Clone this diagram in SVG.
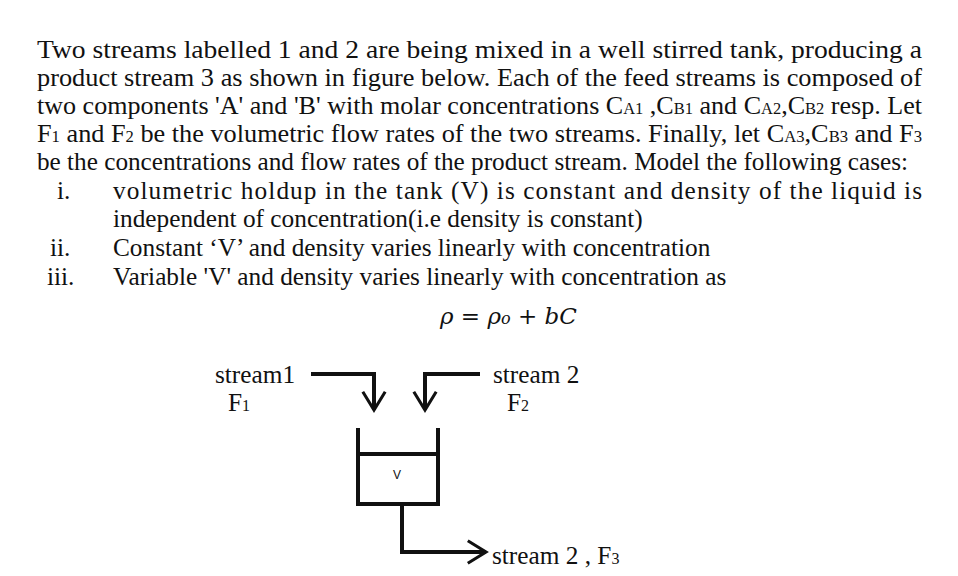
<svg xmlns="http://www.w3.org/2000/svg" width="958" height="576" viewBox="0 0 958 576">
<style>
text{font-family:"Liberation Serif","Times New Roman",serif;font-size:25.3px;fill:#111}
.s{font-size:16px}
.ln{fill:none;stroke:#111;stroke-width:4}
.eq{font-style:italic;font-family:"DejaVu Serif","Liberation Serif",serif;font-size:23px}
</style>
<defs>
<marker id="ah" viewBox="0 0 10 10" refX="8.5" refY="5" markerWidth="7" markerHeight="7" orient="auto" markerUnits="strokeWidth">
<path d="M2,1 L8.5,5 L2,9" fill="none" stroke="#111" stroke-width="1.1"/>
</marker>
</defs>
<rect width="958" height="576" fill="#fff"/>
<g id="text">
<text x="37" y="58" textLength="885" lengthAdjust="spacingAndGlyphs">Two streams labelled 1 and 2 are being mixed in a well stirred tank, producing a</text>
<text x="37" y="86" textLength="885" lengthAdjust="spacingAndGlyphs">product stream 3 as shown in figure below. Each of the feed streams is composed of</text>
<text x="37" y="114" textLength="885" lengthAdjust="spacingAndGlyphs">two components 'A' and 'B' with molar concentrations C<tspan class="s">A1</tspan> ,C<tspan class="s">B1</tspan> and C<tspan class="s">A2</tspan>,C<tspan class="s">B2</tspan> resp. Let</text>
<text x="37" y="142" textLength="885" lengthAdjust="spacingAndGlyphs">F<tspan class="s">1</tspan> and F<tspan class="s">2</tspan> be the volumetric flow rates of the two streams. Finally, let C<tspan class="s">A3</tspan>,C<tspan class="s">B3</tspan> and F<tspan class="s">3</tspan></text>
<text x="37" y="170" textLength="871" lengthAdjust="spacingAndGlyphs">be the concentrations and flow rates of the product stream. Model the following cases:</text>
<text x="57" y="199">i.</text>
<text x="113" y="199" textLength="809" lengthAdjust="spacing">volumetric holdup in the tank (V) is constant and density of the liquid is</text>
<text x="113" y="227">independent of concentration(i.e density is constant)</text>
<text x="50" y="256">ii.</text>
<text x="113" y="256">Constant ‘V’ and density varies linearly with concentration</text>
<text x="47" y="285">iii.</text>
<text x="113" y="285">Variable 'V' and density varies linearly with concentration as</text>
<text class="eq" x="440" y="324">ρ = ρ<tspan font-size="16">o</tspan> + bC</text>
</g>
<g id="stream1"><text x="215" y="383">stream1</text><text x="228" y="411">F<tspan class="s">1</tspan></text></g>
<g id="stream2"><text x="493" y="383">stream 2</text><text x="507" y="411">F<tspan class="s">2</tspan></text></g>
<g id="tank">
<path class="ln" d="M358,428 V504 H438 V428 M358,454 H438"/>
<text x="397" y="479" text-anchor="middle" style="font-family:'Liberation Sans',Arial,sans-serif;font-size:12px">V</text>
</g>
<g id="outlet"><text x="492" y="564">stream 2 , F<tspan class="s">3</tspan></text></g>
<g id="connectors">
<path class="ln" d="M311,374 H374 V410" marker-end="url(#ah)"/>
<path class="ln" d="M480,374 H425 V410" marker-end="url(#ah)"/>
<path class="ln" d="M402,504 V552 H486" marker-end="url(#ah)"/>
</g>
</svg>
